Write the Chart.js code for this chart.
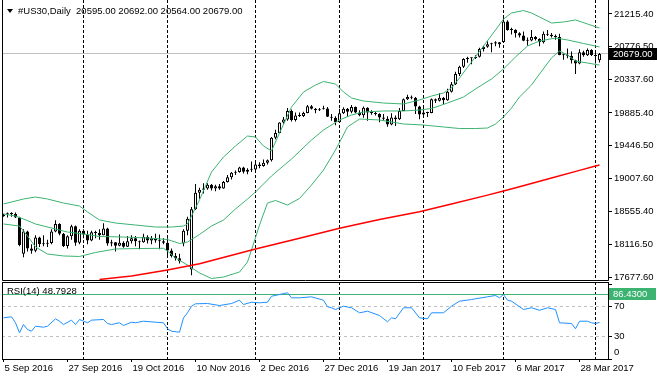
<!DOCTYPE html>
<html>
<head>
<meta charset="utf-8">
<script src="https://cdn.jsdelivr.net/npm/chart.js@4.4.1/dist/chart.umd.min.js"></script>
<style>
html,body{margin:0;padding:0;background:#fff;}
#wrap{position:relative;width:657px;height:380px;overflow:hidden;background:#fff;}
canvas{position:absolute;left:0;}
#cMain{top:0;}
#cRsi{top:281px;}
.txt{position:absolute;white-space:pre;color:#000;line-height:1;}
#tri{position:absolute;left:7px;top:9px;width:0;height:0;border-left:3px solid transparent;border-right:3px solid transparent;border-top:4px solid #000;}
</style>
</head>
<body>
<div id="wrap">
<canvas id="cMain" width="657" height="281"></canvas>
<canvas id="cRsi" width="657" height="99"></canvas>
<div id="tri"></div>
<div class="txt" id="title"></div>
<div class="txt" id="rsiTitle"></div>
</div>
<script>
// ---------------- data ----------------
const symbolName = '#US30,Daily';
const opens = [
18495,18520,18535,18525,18480,17990,18290,18060,18030,18210,
18120,18125,18135,18290,18390,18260,18095,18225,18360,18140,
18300,18250,18170,18280,18270,18240,18330,18130,18145,18100,
18140,18085,18160,18200,18160,18145,18220,18170,18200,18170,
18160,18140,18035,17960,17930,18130,18300,17780,18590,18810,
18850,18870,18920,18870,18900,18870,18955,19020,19080,19090,
19150,19095,19120,19125,19190,19170,19215,19250,19550,19615,
19755,19795,19910,19790,19850,19845,19885,19975,19940,19920,
19935,19945,19835,19820,19760,19880,19940,19900,19965,19890,
19855,19955,19890,19885,19870,19825,19805,19730,19825,19800,
19910,20070,20100,20090,19970,19865,19890,19885,20070,20050,
20090,20055,20170,20270,20410,20505,20610,20620,20625,20640,
20745,20775,20810,20820,20835,20840,21115,21000,21005,20955,
20925,20855,20860,20905,20880,20835,20950,20935,20915,20905,
20665,20660,20655,20595,20550,20700,20660,20730,20665,20595];
const highs = [
18530,18545,18550,18545,18490,18320,18300,18120,18240,18220,
18240,18180,18320,18440,18400,18270,18240,18380,18370,18320,
18320,18300,18300,18300,18320,18400,18340,18180,18150,18250,
18160,18230,18240,18230,18170,18260,18240,18230,18260,18250,
18200,18200,18060,18000,17990,18320,18490,18620,18930,18880,
18940,18940,18930,18920,18930,18970,19050,19090,19110,19160,
19160,19140,19230,19230,19220,19260,19260,19560,19660,19760,
19830,19950,19930,19890,19890,19900,19990,19990,19950,19950,
19980,19965,19870,19840,19940,19960,19950,19990,19970,19920,
19970,19960,19920,19900,19880,19870,19840,19880,19850,19950,
20080,20130,20120,20100,19980,19970,19900,20080,20080,20150,
20100,20210,20300,20440,20520,20620,20640,20630,20660,20760,
20790,20850,20830,20850,20840,21170,21130,21030,21010,20970,
20980,20900,21000,20920,20890,20980,21000,20960,20940,20950,
20680,20750,20710,20600,20740,20720,20750,20740,20700,20692];
const lows = [
18490,18480,18490,18470,18090,17945,18020,17990,18010,18080,
18090,18080,18120,18280,18240,18080,18060,18180,18100,18120,
18200,18120,18160,18200,18180,18240,18100,18090,18020,18090,
18070,18080,18130,18090,18050,18140,18130,18120,18140,18050,
18120,17960,17940,17900,17860,18090,18240,17700,18580,18730,
18800,18850,18840,18830,18850,18865,18950,18990,19050,19080,
19070,19060,19090,19110,19140,19160,19190,19230,19530,19610,
19740,19780,19770,19770,19830,19830,19880,19930,19880,19910,
19930,19830,19780,19720,19760,19870,19830,19880,19880,19840,
19820,19780,19860,19850,19760,19780,19700,19720,19710,19790,
19910,20060,20070,19870,19800,19840,19830,19880,20020,20040,
20000,20050,20160,20260,20380,20490,20560,20540,20610,20630,
20710,20760,20700,20780,20760,20830,20990,20940,20900,20900,
20850,20790,20850,20860,20780,20820,20920,20900,20870,20660,
20600,20620,20550,20410,20540,20640,20650,20650,20550,20564];
const closes = [
18520,18535,18525,18480,18110,18290,18060,18030,18210,18120,
18125,18135,18290,18390,18260,18095,18225,18360,18140,18300,
18250,18170,18280,18270,18240,18330,18130,18145,18100,18140,
18085,18160,18200,18160,18145,18220,18170,18200,18170,18160,
18140,18035,17960,17930,17890,18300,18460,18590,18810,18850,
18870,18920,18870,18900,18870,18955,19020,19080,19090,19150,
19095,19120,19125,19190,19170,19215,19250,19550,19615,19755,
19795,19910,19790,19850,19845,19885,19975,19940,19920,19935,
19945,19835,19820,19760,19880,19940,19900,19965,19890,19855,
19955,19890,19885,19870,19825,19805,19730,19825,19800,19910,
20070,20100,20090,19970,19865,19890,19885,20070,20050,20090,
20055,20170,20270,20410,20505,20610,20620,20625,20640,20745,
20775,20810,20820,20835,20810,21115,21000,21005,20955,20925,
20855,20860,20905,20880,20835,20950,20935,20915,20905,20665,
20660,20655,20595,20550,20700,20660,20730,20665,20650,20679];

// Bollinger bands (at the listed bar positions)
const bbUpperIdx = [0,5,8,11,15,19,21,24,28,33,38,42,45,46,49,52,55,58,61,63,65,67,69,72,75,78,80,83,85,87,90,95,100,104,107,110,112,114,117,120,123,125,127,130,132,134,137,140,143,146,149];
const bbUpper = [18660,18727,18754,18727,18673,18633,18552,18445,18404,18377,18350,18350,18364,18391,18714,19090,19292,19440,19574,19561,19440,19373,19615,19964,20166,20260,20307,20274,20166,20086,20045,20018,20005,20059,20112,20153,20220,20355,20570,20785,21000,21148,21229,21262,21229,21175,21094,21108,21135,21081,21027];
const bbMidIdx = [0,3,5,8,12,16,20,24,30,36,41,44,46,49,52,55,58,61,63,67,72,77,80,84,87,90,95,100,104,107,111,115,118,122,125,128,131,134,138,141,145,149];
const bbMid = [18525,18498,18458,18391,18337,18283,18256,18223,18216,18203,18182,18129,18149,18250,18364,18445,18593,18727,18821,19037,19265,19521,19655,19790,19857,19897,19911,19911,19924,19944,20018,20099,20207,20341,20476,20637,20785,20852,20893,20866,20819,20772];
const bbLowIdx = [0,4,6,8,11,15,19,23,28,34,40,41,43,46,49,52,55,59,61,62,64,66,68,71,74,77,80,83,86,89,94,100,105,110,114,118,121,123,125,127,129,132,134,137,139,141,143,146,149];
const bbLow = [18391,18364,18230,18082,17987,17961,17954,18008,18055,18061,18064,18028,17934,17839,17732,17658,17678,17745,17880,18041,18377,18673,18707,18646,18734,18915,19117,19386,19696,19803,19790,19736,19722,19696,19675,19675,19682,19736,19830,19951,20099,20260,20408,20624,20718,20664,20583,20556,20529];

// red moving average
const maIdx = [24,32,41,49,63,74,84,94,104,112,121,125,129,137,144,148,149];
const maVal = [17645,17690,17772,17855,18055,18199,18335,18450,18556,18660,18779,18835,18892,19010,19112,19171,19184];

// RSI(14)
const rsiIdx = [0,2,3,4,5,6,7,8,10,11,13,14,15,17,18,19,21,22,25,26,27,29,30,32,33,35,38,40,41,42,44,45,46,47,48,51,54,57,59,60,62,64,66,67,69,71,72,74,77,80,81,82,83,85,87,89,91,94,96,97,98,100,102,104,106,107,110,112,114,117,118,121,123,124,125,126,127,130,132,134,136,138,139,142,143,144,146,147,148,149];
const rsiVal = [54.9,56.3,48.3,34.9,46,39.3,37.1,43.7,42.4,43.7,53.6,50.4,46,51.8,46,52.7,48.3,51.8,52.7,47.3,46,48.3,44.7,49.1,48.3,50.4,49.1,48.3,40.3,37.1,35.7,54.9,61.6,70.4,73.6,74,71.3,74,78.4,72.7,75.7,74.9,75.7,83.7,86,88.3,81.6,81.6,82.9,78.4,69.6,68.3,66,70.4,68.3,61.6,63.7,58,49.6,54.9,53.6,68.3,68.3,54.9,53.6,61.6,61.6,70.4,77.1,79.3,80.3,82.9,84.7,81.6,86,78.4,77.1,66,68.3,65,68.3,66,48.3,47.3,40.3,50.4,50.4,48.3,47.3,48.7928];
const rsiLevels = [70, 30];
const rsiMarkLevel = 86.43;

// axis ticks / labels
const priceTicks = [21215.40, 20776.50, 20337.60, 19885.40, 19446.50, 19007.60, 18555.40, 18116.50, 17677.60];
const rsiTicks = [100, 70, 30, 0];
const dateTickIdx = [0,16,32,48,64,80,96,112,128,144];
const dateLabels = ['5 Sep 2016','27 Sep 2016','19 Oct 2016','10 Nov 2016','2 Dec 2016','27 Dec 2016','19 Jan 2017','10 Feb 2017','6 Mar 2017','28 Mar 2017'];
const monthStartIdx = [20,41,63,84,105,125,148];

// ---------------- fonts ----------------
function fontAvailable(name){
  const c = document.createElement('canvas').getContext('2d');
  const s = '0123456789 #US30,Daily Sep Oct Mar';
  c.font = '30px monospace'; const a = c.measureText(s).width;
  c.font = '30px "' + name + '", monospace'; const b = c.measureText(s).width;
  c.font = '30px serif'; const a2 = c.measureText(s).width;
  c.font = '30px "' + name + '", serif'; const b2 = c.measureText(s).width;
  return a !== b && a2 !== b2;
}
const NARROW = fontAvailable('Liberation Sans Narrow');
const FAMILY = NARROW ? '"Liberation Sans Narrow"' : '"Liberation Sans"';
const FSIZE = NARROW ? 11 : 9.5;
const FONT = FSIZE + 'px ' + FAMILY;
const chartFont = {family: FAMILY, size: FSIZE};

const n = closes.length;
const title = document.getElementById('title');
title.style.font = FONT; title.style.left = '18px'; title.style.top = '5px';
title.textContent = symbolName + '  ' + [opens[n-1], highs[n-1], lows[n-1], closes[n-1]].map(v => v.toFixed(2)).join(' ');
const rsiTitle = document.getElementById('rsiTitle');
rsiTitle.style.font = FONT; rsiTitle.style.left = '7px'; rsiTitle.style.top = '285px';
rsiTitle.textContent = 'RSI(14) ' + rsiVal[rsiVal.length-1].toFixed(4);

// ---------------- helpers ----------------
const X_MIN = -0.375, X_MAX = 151.125;
const PRICE_MIN = 17637.7, PRICE_MAX = 21403.7;
const BAND = '#3cb371';

function drawMonthGrid(ctx, a, x){
  ctx.save();
  ctx.strokeStyle = '#000'; ctx.lineWidth = 1; ctx.setLineDash([3,2]);
  monthStartIdx.forEach(i => {
    const px = Math.floor(x.getPixelForValue(i)) + 0.5;
    ctx.beginPath(); ctx.moveTo(px, a.top); ctx.lineTo(px, a.bottom); ctx.stroke();
  });
  ctx.restore();
}
function hLine(ctx, a, py){
  ctx.beginPath(); ctx.moveTo(a.left, py); ctx.lineTo(a.right, py); ctx.stroke();
}
const pts = (idx, vals) => idx.map((v, k) => ({x: v, y: vals[k]}));

// ---------------- main chart ----------------
const wickData = closes.map((c, i) => ({x: i, y: [lows[i], highs[i]]}));
const bodyData = closes.map((c, i) => ({x: i, y: [opens[i], c]}));
const bodyFill = closes.map((c, i) => c >= opens[i] ? '#ffffff' : '#000000');

const mainPanel = {
  id: 'mainPanel',
  beforeDatasetsDraw(chart){
    const {ctx, chartArea: a, scales: {x, y}} = chart;
    ctx.save();
    ctx.strokeStyle = '#c0c0c0'; ctx.lineWidth = 1;
    hLine(ctx, a, Math.round(y.getPixelForValue(closes[n-1]) - 0.5) + 0.5);
    ctx.restore();
    drawMonthGrid(ctx, a, x);
  },
  afterDraw(chart){
    const {ctx, chartArea: a, scales: {y}} = chart;
    ctx.save();
    ctx.strokeStyle = '#000'; ctx.lineWidth = 1;
    ctx.beginPath();
    ctx.moveTo(a.left + 0.5, a.top); ctx.lineTo(a.left + 0.5, a.bottom + 0.5);
    ctx.lineTo(a.right + 0.5, a.bottom + 0.5); ctx.lineTo(a.right + 0.5, a.top);
    ctx.stroke();
    const py = Math.round(y.getPixelForValue(closes[n-1]));
    ctx.fillStyle = '#000'; ctx.fillRect(a.right + 1, py - 6, 48, 12);
    ctx.fillStyle = '#fff'; ctx.font = FONT; ctx.textBaseline = 'middle'; ctx.textAlign = 'left';
    ctx.fillText(closes[n-1].toFixed(2), a.right + 5, py + 0.5);
    ctx.restore();
  }
};

const lineBase = {type: 'line', pointRadius: 0, borderWidth: 1, tension: 0, fill: false};
new Chart(document.getElementById('cMain'), {
  type: 'bar',
  data: {datasets: [
    Object.assign({}, lineBase, {label: 'MA', data: pts(maIdx, maVal), borderColor: '#ff0000', borderWidth: 1.5, order: 0}),
    Object.assign({}, lineBase, {label: 'BB upper', data: pts(bbUpperIdx, bbUpper), borderColor: BAND, order: 1}),
    Object.assign({}, lineBase, {label: 'BB middle', data: pts(bbMidIdx, bbMid), borderColor: BAND, order: 1}),
    Object.assign({}, lineBase, {label: 'BB lower', data: pts(bbLowIdx, bbLow), borderColor: BAND, order: 1}),
    {type: 'bar', label: 'body', data: bodyData, backgroundColor: bodyFill, borderColor: '#000', borderWidth: 1,
     borderSkipped: false, barThickness: 3, grouped: false, minBarLength: 1, inflateAmount: 0, order: 3},
    {type: 'bar', label: 'wick', data: wickData, backgroundColor: '#000', borderWidth: 0,
     barThickness: 1, grouped: false, minBarLength: 1, inflateAmount: 0, order: 4}
  ]},
  options: {
    responsive: false, animation: false, devicePixelRatio: 1, events: [],
    layout: {padding: {left: 2, top: 0, right: 0, bottom: 1}},
    plugins: {legend: {display: false}, tooltip: {enabled: false}, title: {display: false}},
    scales: {
      x: {type: 'linear', min: X_MIN, max: X_MAX, offset: false, display: false},
      y: {type: 'linear', position: 'right', min: PRICE_MIN, max: PRICE_MAX,
        afterBuildTicks: s => { s.ticks = priceTicks.map(v => ({value: v})); },
        afterFit: s => { s.width = 49; s.paddingTop = 0; s.paddingBottom = 0; },
        ticks: {color: '#000', font: chartFont, padding: 2, autoSkip: false, callback: v => Number(v).toFixed(2)},
        grid: {drawOnChartArea: false, drawTicks: true, tickLength: 4, tickColor: '#000', color: '#000'},
        border: {display: false}
      }
    }
  },
  plugins: [mainPanel]
});

// ---------------- RSI chart ----------------
const rsiPanel = {
  id: 'rsiPanel',
  beforeDraw(chart){
    // keep the end labels (100 / 0) inside the sub-window, as the terminal does
    const ys = chart.scales.y;
    const items = ys.getLabelItems();
    items.forEach(it => {
      const t = it.options && it.options.translation;
      if (!t) return;
      if (it.label === '100') t[1] = Math.max(t[1], chart.chartArea.top + 9);
      if (it.label === '0') t[1] = Math.min(t[1], chart.chartArea.bottom - 7);
    });
  },
  beforeDatasetsDraw(chart){
    const {ctx, chartArea: a, scales: {x, y}} = chart;
    drawMonthGrid(ctx, a, x);
    ctx.save();
    ctx.lineWidth = 1;
    ctx.strokeStyle = '#c0c0c0'; ctx.setLineDash([3,3]);
    rsiLevels.forEach(v => hLine(ctx, a, Math.round(y.getPixelForValue(v) - 0.5) + 0.5));
    ctx.setLineDash([]);
    ctx.strokeStyle = BAND;
    hLine(ctx, a, Math.round(y.getPixelForValue(rsiMarkLevel) - 0.5) + 0.5);
    ctx.restore();
  },
  afterDraw(chart){
    const {ctx, chartArea: a, scales: {y}} = chart;
    ctx.save();
    ctx.strokeStyle = '#000'; ctx.lineWidth = 1;
    ctx.strokeRect(a.left + 0.5, a.top + 0.5, a.right - a.left, a.bottom - a.top);
    const py = Math.round(y.getPixelForValue(rsiMarkLevel));
    ctx.fillStyle = BAND; ctx.fillRect(a.right + 1, py - 6, 47, 12);
    ctx.fillStyle = '#fff'; ctx.font = FONT; ctx.textBaseline = 'middle'; ctx.textAlign = 'left';
    ctx.fillText(rsiMarkLevel.toFixed(4), a.right + 5, py + 0.5);
    ctx.restore();
  }
};

new Chart(document.getElementById('cRsi'), {
  type: 'line',
  data: {datasets: [
    Object.assign({}, lineBase, {label: 'RSI(14)', data: pts(rsiIdx, rsiVal), borderColor: '#1e90ff'})
  ]},
  options: {
    responsive: false, animation: false, devicePixelRatio: 1, events: [],
    layout: {padding: {left: 2, top: 1, right: 0, bottom: 0}},
    plugins: {legend: {display: false}, tooltip: {enabled: false}, title: {display: false}},
    scales: {
      x: {type: 'linear', position: 'bottom', min: X_MIN, max: X_MAX, offset: false,
        afterBuildTicks: s => { s.ticks = dateTickIdx.map(v => ({value: v})); },
        afterFit: s => { s.height = 21; s.paddingLeft = 0; s.paddingRight = 0; },
        ticks: {autoSkip: false, maxRotation: 0, minRotation: 0, align: 'start', padding: 1, labelOffset: 1,
          color: '#000', font: chartFont, callback: (v, i) => dateLabels[i]},
        grid: {drawOnChartArea: false, drawTicks: true, tickLength: 3, tickColor: '#000', color: '#000'},
        border: {display: false}
      },
      y: {type: 'linear', position: 'right', min: 0, max: 102.67,
        afterBuildTicks: s => { s.ticks = rsiTicks.map(v => ({value: v})); },
        afterFit: s => { s.width = 49; s.paddingTop = 0; s.paddingBottom = 0; },
        ticks: {color: '#000', font: chartFont, padding: 2, autoSkip: false, callback: v => String(v)},
        grid: {drawOnChartArea: false, drawTicks: true, tickLength: 4, tickColor: '#000', color: '#000'},
        border: {display: false}
      }
    }
  },
  plugins: [rsiPanel]
});
</script>
</body>
</html>
